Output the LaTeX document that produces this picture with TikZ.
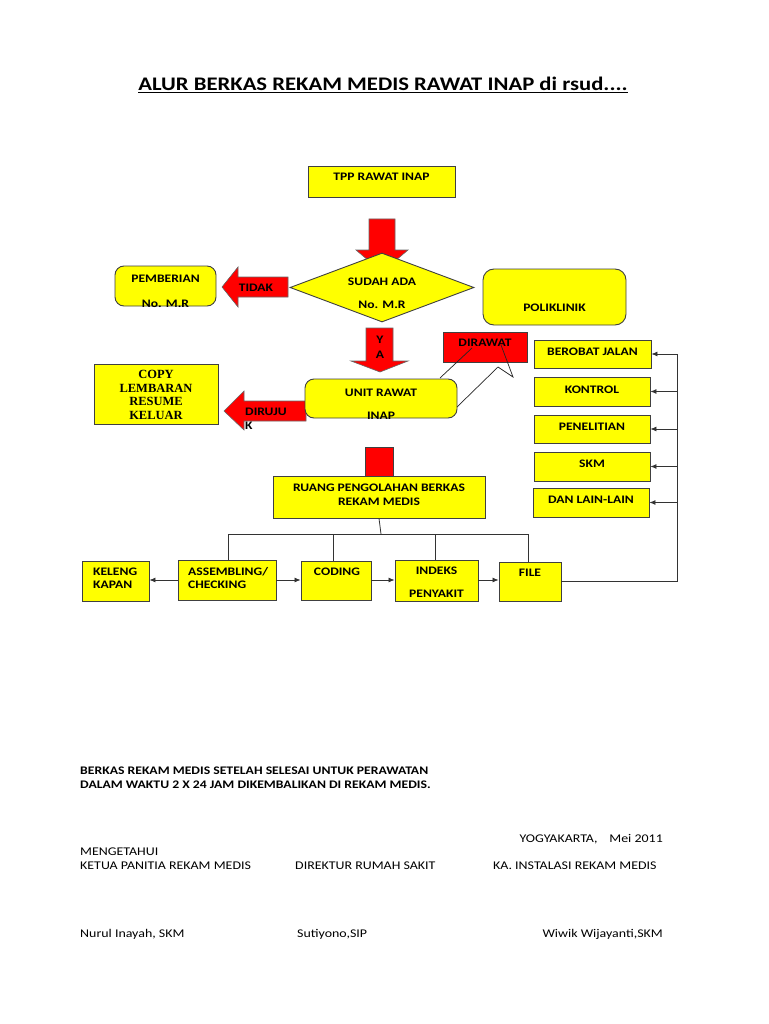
\documentclass[tikz,border=0pt]{standalone}
\usepackage{fontspec}
\setmainfont{Carlito}[FakeStretch=1.18]
\newfontfamily\serifb{Liberation Serif}
\usetikzlibrary{shapes.geometric,arrows.meta}
\definecolor{yel}{HTML}{FFFF00}
\definecolor{rd}{HTML}{FF0000}
\begin{document}
\begin{tikzpicture}[x=1pt,y=-1pt,
  ybox/.style={draw=black!75, line width=0.9pt, fill=yel, inner sep=0pt},
  rbox/.style={ybox, rounded corners=9pt},
  rshape/.style={draw=black!60, line width=0.6pt, fill=rd},
  lbl/.style={font=\fontsize{11.5}{13}\selectfont\bfseries, inner sep=0pt, anchor=base},
  lbll/.style={lbl, anchor=base west},
  txt/.style={font=\fontsize{11.8}{14}\selectfont, inner sep=0pt, anchor=base west},
  txtb/.style={txt, font=\fontsize{11.6}{14}\selectfont\bfseries},
  conn/.style={draw=black!80, line width=0.8pt},
  arr/.style={conn, -{Latex[length=6pt,width=5pt]}}]
\useasboundingbox (0,0) rectangle (768,1024);
\fill[white] (0,0) rectangle (768,1024);

% title
\node[inner sep=0pt, anchor=base, font=\fontsize{19.2}{22}\selectfont\bfseries] (title) at (383,91) {\underline{ALUR BERKAS REKAM MEDIS RAWAT INAP di rsud....}};

% TPP
\node[ybox, minimum width=147pt, minimum height=31pt] (tpp) at (381.5,181.5) {};
\node[lbl] at (381.5,181) {TPP RAWAT INAP};

% red arrow down 1
\draw[rshape] (369,219) -- (395,219) -- (395,250) -- (408,250) -- (382,272) -- (356,250) -- (369,250) -- cycle;

% TIDAK arrow
\draw[rshape] (288,277) -- (238,277) -- (238,267) -- (222,287) -- (238,307) -- (238,297) -- (288,297) -- cycle;
\node[lbl] at (256,291) {TIDAK};

% diamond
\node[diamond, draw=black!75, line width=0.9pt, fill=yel, inner sep=0pt, minimum width=184pt, minimum height=69pt] (dia) at (382,287.5) {};
\node[lbl] at (382,285) {SUDAH ADA};
\node[lbl] at (382,308) {No. M.R};

% PEMBERIAN
\node[rbox, minimum width=101pt, minimum height=40pt] (pemb) at (165.5,286) {};
\node[lbl] at (165.5,282) {PEMBERIAN};
\node[lbl] at (165.5,307) {No. M.R};

% POLIKLINIK
\node[rbox, rounded corners=11pt, minimum width=143pt, minimum height=56pt] (poli) at (554.5,297) {};
\node[lbl] at (554.5,311) {POLIKLINIK};

% YA arrow
\draw[rshape] (366,328) -- (393,328) -- (393,361) -- (408,361) -- (380,372) -- (351,361) -- (366,361) -- cycle;
\node[lbl] at (380,343) {Y};
\node[lbl] at (380,358) {A};

% DIRAWAT callout
\node[rshape, draw=black!75, minimum width=84pt, minimum height=30pt, inner sep=0pt] (dirawat) at (485,347) {};
\node[lbl] at (485,346) {DIRAWAT};

% DIRUJUK arrow
\draw[rshape] (306,401) -- (244,401) -- (244,391) -- (224,411) -- (244,430) -- (244,421) -- (306,421) -- cycle;

% UNIT RAWAT INAP
\node[rbox, minimum width=152pt, minimum height=39pt] (unit) at (381,398.5) {};
\node[lbl] at (381,396) {UNIT RAWAT};
\node[lbl] at (381,419.5) {INAP};
\node[lbll] at (245,415) {DIRUJU};
\node[lbll] at (245,429) {K};

% callout pointer lines
\draw[black!85, line width=0.7pt] (440,378) -- (472,348);
\draw[black!85, line width=0.7pt] (457,407) -- (498,367) -- (513,377) -- (501,345);

% COPY LEMBARAN
\node[ybox, minimum width=124pt, minimum height=60pt] (copy) at (156,394) {};
\node[inner sep=0pt, align=center, font=\serifb\fontsize{12.5}{13.7}\selectfont\bfseries] at (156,395) {COPY\\LEMBARAN\\RESUME\\KELUAR};

% red small rect
\node[rshape, draw=black!75, minimum width=28pt, minimum height=29pt, inner sep=0pt] (rsq) at (379,461.5) {};

% RUANG
\node[ybox, minimum width=212pt, minimum height=42pt] (ruang) at (379,497) {};
\node[lbl] at (379,491) {RUANG PENGOLAHAN BERKAS};
\node[lbl] at (379,505) {REKAM MEDIS};

% bottom row
\node[ybox, minimum width=67pt, minimum height=40pt] (keleng) at (115.5,581) {};
\node[lbll] at (93,575) {KELENG};
\node[lbll] at (93,588) {KAPAN};
\node[ybox, minimum width=98pt, minimum height=40pt] (assem) at (227,580) {};
\node[lbll] at (188,575) {ASSEMBLING/};
\node[lbll] at (188,588) {CHECKING};
\node[ybox, minimum width=70pt, minimum height=39pt] (coding) at (336,580.5) {};
\node[lbl] at (337,575) {CODING};
\node[ybox, minimum width=83pt, minimum height=41pt] (indeks) at (436.5,580.5) {};
\node[lbl] at (436.5,574) {INDEKS};
\node[lbl] at (436.5,597) {PENYAKIT};
\node[ybox, minimum width=62pt, minimum height=39pt] (file) at (530,581.5) {};
\node[lbl] at (530,576) {FILE};

% tree
\coordinate (tj) at (381,534);
\draw[conn] (ruang.south) -- (tj);
\draw[conn] (228,560) -- (228,534) -- (528,534) -- (528,562);
\draw[conn] (333,534) -- (333,561);
\draw[conn] (435,534) -- (435,560);

% bottom arrows
\draw[arr] (assem.west) -- (keleng.east |- assem.west);
\draw[arr] (assem.east) -- (coding.west |- assem.east);
\draw[arr] (coding.east |- assem.east) -- (indeks.west |- assem.east);
\draw[arr] (indeks.east |- assem.east) -- (file.west |- assem.east);

% right column
\node[ybox, minimum width=117pt, minimum height=28pt] (berobat) at (592.5,354) {};
\node[lbl] at (592.5,355) {BEROBAT JALAN};
\node[ybox, minimum width=116pt, minimum height=29pt] (kontrol) at (592,391.5) {};
\node[lbl] at (592,393) {KONTROL};
\node[ybox, minimum width=116pt, minimum height=28pt] (penel) at (592,429) {};
\node[lbl] at (592,430) {PENELITIAN};
\node[ybox, minimum width=116pt, minimum height=29pt] (skm) at (592,466.5) {};
\node[lbl] at (592,467) {SKM};
\node[ybox, minimum width=116pt, minimum height=29pt] (dll) at (591,502.5) {};
\node[lbl] at (591,503) {DAN LAIN-LAIN};

\coordinate (bus) at (677,354);
\draw[conn] (file.east) -- (file.east -| bus) -- (bus);
\foreach \b in {berobat,kontrol,penel,skm,dll}{
  \draw[arr] (bus |- \b.east) -- (\b.east);
}

% bottom text
\node[txtb] (n1) at (80,774) {BERKAS REKAM MEDIS SETELAH SELESAI UNTUK PERAWATAN};
\node[txtb] (n2) at (80,788) {DALAM WAKTU 2 X 24 JAM DIKEMBALIKAN DI REKAM MEDIS.};
\node[txt, anchor=base east] (yog) at (663,842) {YOGYAKARTA,\quad Mei 2011};
\node[txt] (meng) at (80,855) {MENGETAHUI};
\node[txt] (ketua) at (80,869) {KETUA PANITIA REKAM MEDIS};
\node[txt] (dir) at (295,869) {DIREKTUR RUMAH SAKIT};
\node[txt] (ka) at (493,869) {KA. INSTALASI REKAM MEDIS};
\node[txt] (nur) at (80,937) {Nurul Inayah, SKM};
\node[txt] (sut) at (297,937) {Sutiyono,SIP};
\node[txt, anchor=base east] (wiw) at (663,937) {Wiwik Wijayanti,SKM};
\end{tikzpicture}
\end{document}
